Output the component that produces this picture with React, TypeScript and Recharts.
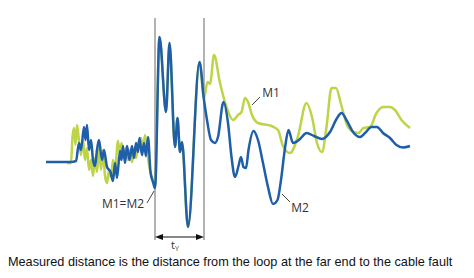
import React from 'react';
import { LineChart, Line, XAxis, YAxis, ReferenceLine, ReferenceDot } from 'recharts';

// Time (arbitrary units) and amplitude
const blueTime = [0, 25, 30, 33, 35, 38, 39.5, 41, 43, 45, 47, 49, 51, 53, 56, 58, 61, 64.5, 67, 69, 71, 74, 75.5, 77, 79, 81, 83.5, 86, 88, 90, 92, 93.5, 96, 98, 100, 102, 104.5, 107, 109, 113.5, 120, 123.5, 129, 131.5, 134, 136, 142, 153.5, 158, 161, 165, 169, 172, 177.5, 182, 185.5, 189, 192.5, 195, 197.5, 200, 202.5, 207.5, 212, 217, 222, 227, 231.5, 235, 239, 242.5, 247, 254, 260.5, 268, 276, 284, 290.5, 295.5, 301, 307, 314, 319, 325.5, 331, 337, 344, 350.5, 357, 364];
const blueAmp = [0, 0, 1, 19, 12, 35, 22, 37, 12, 22, 2, -4, 12, 22, 2, 12, -5, -10, -19, -1, -16, 11, 2, 16, -1, 16, 2, 16, 4, 19, 10, 24, 7, 19, 6, 25, -10, -20, -26, 125, 50, 119, 15, 44, 10, 20, -65, 100, 62, 42, 22, 19, 25, 60, 39, 5, -15, -4, 5, -5, -6, 12, 31, 22, -1, -25, -42, -38, -18, 14, 32, 19, 23, 29, 26, 23, 30, 43, 49, 41, 30, 25, 29, 35, 35, 29, 24, 17, 14.5, 16];

const greenTime = [21, 25, 26.5, 28, 29.5, 31, 33, 35, 37, 39, 41, 43, 45, 47, 49, 51, 53, 55, 57, 59, 61, 63, 65, 67, 69, 72, 74, 75.5, 78, 80, 82, 84, 86, 88, 90, 92.5, 95, 97, 99, 101, 103.5, 107, 109, 113.5, 120, 123.5, 129, 131.5, 134, 136, 142, 153.5, 158, 161.5, 164, 168, 174, 180.5, 187, 192, 195.5, 199, 202, 206, 212, 225.5, 232, 237, 244, 251.5, 260.5, 266, 271, 276, 280.5, 285.5, 290, 295, 301, 307.5, 312.5, 317.5, 324, 330.5, 337, 344, 349, 355.5, 364];
const greenAmp = [-1, -1, 25, 34, 17, 37, 21, 7, 22, 2, 14, -8, 2, -14, 4, -10, 14, -8, 12, -14, -21, -8, -15, 2, -8, 21, 7, 19, 4, 14, 2, 12, 0, 12, 4, 20, 24, 12, 27, 12, -6, -19, -24, 125, 50, 119, 15, 44, 10, 20, -65, 100, 64, 80, 78, 107, 79, 55, 42, 47, 50, 64, 60, 47, 39, 36, 32, 16, 9, 24, 59, 45, 19, 10, 35, 74, 74, 58, 37, 30, 29, 34, 35, 49, 55, 55, 52, 42, 34];

const markerTimes = [109, 158];
const arrowAmp = -75;
const caption = 'Measured distance is the distance from the loop at the far end to the cable fault';

const labelTexts = ['M1=M2', 'M1', 'M2'];
const labelTime = [77, 225, 254];
const labelAmp = [-42, 69, -46];
const leaderFrom = [{ t: 101, a: -41 }, { t: 206, a: 57 }, { t: 236, a: -32 }];
const leaderTo = [{ t: 108, a: -29 }, { t: 214, a: 65 }, { t: 244, a: -40 }];
const tyTime = 132;
const tyAmp = -83;

const blueData = blueTime.map((t, i) => ({ t, v: blueAmp[i] }));
const greenData = greenTime.map((t, i) => ({ t, v: greenAmp[i] }));

const BLUE = '#1f5ea8';
const GREEN = '#bdd447';

const ArrowShape = (p: any) => {
  const { x1, y1, x2, y2 } = p;
  const h = 3, l = 8;
  return (
    <g>
      <line x1={x1 + 3} y1={y1} x2={x2 - 3} y2={y2} stroke="#111" strokeWidth={1.2} />
      <path d={`M${x1},${y1} L${x1 + l},${y1 - h} L${x1 + l},${y1 + h} Z`} fill="#111" />
      <path d={`M${x2},${y2} L${x2 - l},${y2 - h} L${x2 - l},${y2 + h} Z`} fill="#111" />
    </g>
  );
};

const TyLabel = (props: any) => {
  const vb = props.viewBox || {};
  const cx = (vb.x || 0) + (vb.width || 0) / 2;
  const cy = (vb.y || 0) + (vb.height || 0) / 2;
  return (
    <text x={cx - 3} y={cy + 4} fontFamily="Open Sans" fontSize={11} fill="#333" textAnchor="middle">
      t<tspan fontSize={7} dy={2}>Y</tspan>
    </text>
  );
};

export default function App() {
  return (
    <div style={{ position: 'absolute', left: 0, top: 0, width: 474, height: 278, background: '#fff' }}>
      <LineChart width={474} height={278} margin={{ top: 18, right: 63, bottom: 38, left: 46 }}>
        <XAxis type="number" dataKey="t" domain={[0, 365]} hide allowDataOverflow />
        <YAxis type="number" domain={[-78, 144]} hide allowDataOverflow />
        {markerTimes.map((t) => (
          <ReferenceLine key={t} x={t} stroke="#8a8a8a" strokeWidth={1.3} />
        ))}
        <Line data={greenData} dataKey="v" type="monotone" stroke={GREEN} strokeWidth={2.5} dot={false} isAnimationActive={false} />
        <Line data={blueData} dataKey="v" type="monotone" stroke={BLUE} strokeWidth={2.5} dot={false} isAnimationActive={false} />
        {leaderFrom.map((f, i) => (
          <ReferenceLine key={'l' + i} segment={[{ x: f.t, y: f.a }, { x: leaderTo[i].t, y: leaderTo[i].a }]} stroke="#444" strokeWidth={1} ifOverflow="visible" />
        ))}
        {labelTexts.map((s, i) => (
          <ReferenceDot key={s} x={labelTime[i]} y={labelAmp[i]} r={0} fill="none" stroke="none" ifOverflow="visible"
            label={{ value: s, position: 'center', fill: '#333', fontSize: 12, fontFamily: 'Open Sans' }} />
        ))}
        <ReferenceLine segment={[{ x: markerTimes[0], y: arrowAmp }, { x: markerTimes[1], y: arrowAmp }]} shape={ArrowShape} ifOverflow="visible" />
        <ReferenceDot x={tyTime} y={tyAmp} r={0} fill="none" stroke="none" ifOverflow="visible" label={<TyLabel />} />
      </LineChart>
      <div style={{ position: 'absolute', left: 8, top: 255, fontFamily: 'Liberation Sans, Arial, sans-serif', fontSize: 12.7, color: '#111', whiteSpace: 'nowrap', lineHeight: '15px' }}>
        {caption}
      </div>
    </div>
  );
}
